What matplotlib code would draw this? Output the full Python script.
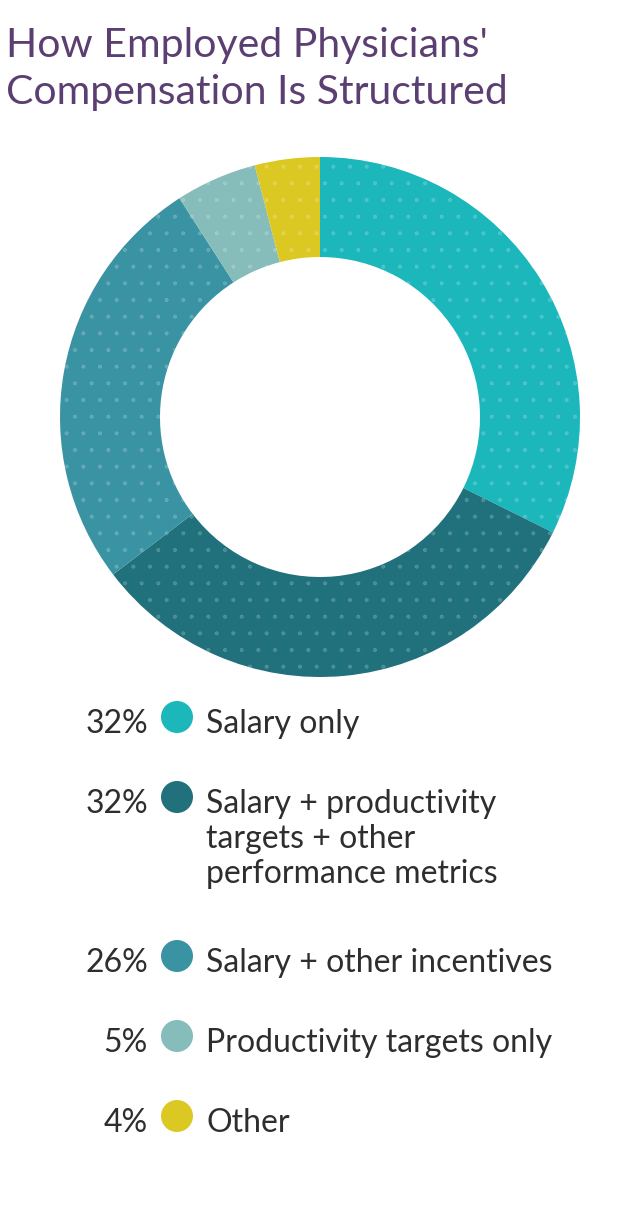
import matplotlib
matplotlib.use("Agg")
import matplotlib.pyplot as plt
from matplotlib.patches import Circle

categories = ["Salary only",
              "Salary + productivity\ntargets + other\nperformance metrics",
              "Salary + other incentives",
              "Productivity targets only",
              "Other"]
values = [32, 32, 26, 5, 4]
pct_labels = ["32%", "32%", "26%", "5%", "4%"]
colors = ["#1BB7BB", "#20717C", "#3A93A2", "#86BCB9", "#DCC823"]
title_lines = ["How Employed Physicians'", "Compensation Is Structured"]

W, H = 640, 1215
fig = plt.figure(figsize=(W / 100, H / 100), dpi=100)
fig.patch.set_facecolor("white")
plt.rcParams["font.family"] = ["Lato", "DejaVu Sans"]
plt.rcParams["hatch.linewidth"] = 0.5

# overlay axes in pixel coordinates (top-left origin)
ov = fig.add_axes([0, 0, 1, 1])
ov.set_xlim(0, W)
ov.set_ylim(H, 0)
ov.axis("off")

# donut
cx, cy, R = 320, 417, 260
ax = fig.add_axes([(cx - R) / W, 1 - (cy + R) / H, 2 * R / W, 2 * R / H])
wedges, _ = ax.pie(values, colors=colors, startangle=90, counterclock=False,
                   radius=1, wedgeprops=dict(width=100 / 260, linewidth=0))
for w in wedges:
    w.set_hatch(".")
    w.set_edgecolor((1, 1, 1, 0.18))
ax.set_xlim(-1, 1)
ax.set_ylim(-1, 1)
ax.set_aspect("equal")
ax.axis("off")

# title
for line, yb in zip(title_lines, [57, 104]):
    ov.text(6, yb, line, color="#5C3F72", fontsize=29.5,
            ha="left", va="baseline")

# legend
baselines = [733, 813, 972, 1052, 1132]
for yb, cat, pct, col in zip(baselines, categories, pct_labels, colors):
    ov.text(148, yb, pct, ha="right", va="baseline", fontsize=23, color="#2E2E2E")
    ov.add_patch(Circle((177, yb - 16), 16, facecolor=col, edgecolor="none"))
    for i, line in enumerate(cat.split("\n")):
        ov.text(206, yb + 35 * i, line, ha="left", va="baseline",
                fontsize=23, color="#2E2E2E")

fig.savefig("out.png", dpi=100, facecolor="white")
